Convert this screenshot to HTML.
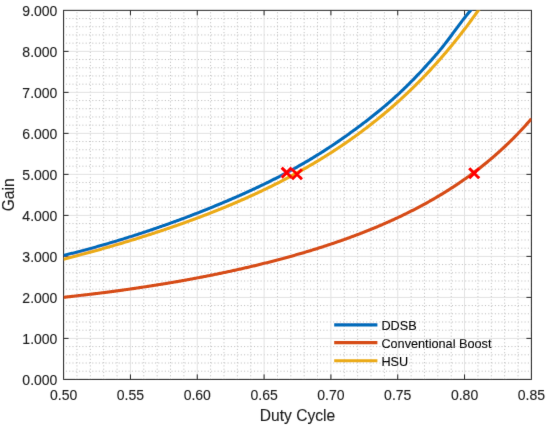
<!DOCTYPE html>
<html><head><meta charset="utf-8"><style>
html,body{margin:0;padding:0;background:#fff;}
body{width:550px;height:428px;overflow:hidden;}
svg{display:block;}
text{font-family:"Liberation Sans",Arial,Helvetica,sans-serif;fill:#1c1c1c;stroke:#1c1c1c;stroke-width:0.12px;}
</style></head><body>
<svg width="550" height="428" viewBox="0 0 550 428">
<defs><filter id="bl" x="0" y="0" width="100%" height="100%" filterUnits="userSpaceOnUse"><feConvolveMatrix order="3" kernelMatrix="0.0049 0.0602 0.0049 0.0602 0.7396 0.0602 0.0049 0.0602 0.0049" divisor="1" edgeMode="duplicate"/></filter><clipPath id="ax"><rect x="63.6" y="10.35" width="467.79999999999995" height="369.04999999999995"/></clipPath></defs>
<rect x="0" y="0" width="550" height="428" fill="#fff"/>
<g filter="url(#bl)">
<g stroke="#c0c0c0" stroke-width="1" stroke-dasharray="1.1 2.20"><line x1="76.97" y1="379.4" x2="76.97" y2="10.35" stroke-dashoffset="0.25"/><line x1="90.33" y1="379.4" x2="90.33" y2="10.35" stroke-dashoffset="0.25"/><line x1="103.70" y1="379.4" x2="103.70" y2="10.35" stroke-dashoffset="0.25"/><line x1="117.06" y1="379.4" x2="117.06" y2="10.35" stroke-dashoffset="0.25"/><line x1="143.79" y1="379.4" x2="143.79" y2="10.35" stroke-dashoffset="0.25"/><line x1="157.16" y1="379.4" x2="157.16" y2="10.35" stroke-dashoffset="0.25"/><line x1="170.53" y1="379.4" x2="170.53" y2="10.35" stroke-dashoffset="0.25"/><line x1="183.89" y1="379.4" x2="183.89" y2="10.35" stroke-dashoffset="0.25"/><line x1="210.62" y1="379.4" x2="210.62" y2="10.35" stroke-dashoffset="0.25"/><line x1="223.99" y1="379.4" x2="223.99" y2="10.35" stroke-dashoffset="0.25"/><line x1="237.35" y1="379.4" x2="237.35" y2="10.35" stroke-dashoffset="0.25"/><line x1="250.72" y1="379.4" x2="250.72" y2="10.35" stroke-dashoffset="0.25"/><line x1="277.45" y1="379.4" x2="277.45" y2="10.35" stroke-dashoffset="0.25"/><line x1="290.82" y1="379.4" x2="290.82" y2="10.35" stroke-dashoffset="0.25"/><line x1="304.18" y1="379.4" x2="304.18" y2="10.35" stroke-dashoffset="0.25"/><line x1="317.55" y1="379.4" x2="317.55" y2="10.35" stroke-dashoffset="0.25"/><line x1="344.28" y1="379.4" x2="344.28" y2="10.35" stroke-dashoffset="0.25"/><line x1="357.65" y1="379.4" x2="357.65" y2="10.35" stroke-dashoffset="0.25"/><line x1="371.01" y1="379.4" x2="371.01" y2="10.35" stroke-dashoffset="0.25"/><line x1="384.38" y1="379.4" x2="384.38" y2="10.35" stroke-dashoffset="0.25"/><line x1="411.11" y1="379.4" x2="411.11" y2="10.35" stroke-dashoffset="0.25"/><line x1="424.47" y1="379.4" x2="424.47" y2="10.35" stroke-dashoffset="0.25"/><line x1="437.84" y1="379.4" x2="437.84" y2="10.35" stroke-dashoffset="0.25"/><line x1="451.21" y1="379.4" x2="451.21" y2="10.35" stroke-dashoffset="0.25"/><line x1="477.94" y1="379.4" x2="477.94" y2="10.35" stroke-dashoffset="0.25"/><line x1="491.30" y1="379.4" x2="491.30" y2="10.35" stroke-dashoffset="0.25"/><line x1="504.67" y1="379.4" x2="504.67" y2="10.35" stroke-dashoffset="0.25"/><line x1="518.03" y1="379.4" x2="518.03" y2="10.35" stroke-dashoffset="0.25"/><line x1="63.6" y1="371.20" x2="531.4" y2="371.20" stroke-dashoffset="1.05"/><line x1="63.6" y1="363.00" x2="531.4" y2="363.00" stroke-dashoffset="1.05"/><line x1="63.6" y1="354.80" x2="531.4" y2="354.80" stroke-dashoffset="1.05"/><line x1="63.6" y1="346.60" x2="531.4" y2="346.60" stroke-dashoffset="1.05"/><line x1="63.6" y1="330.19" x2="531.4" y2="330.19" stroke-dashoffset="1.05"/><line x1="63.6" y1="321.99" x2="531.4" y2="321.99" stroke-dashoffset="1.05"/><line x1="63.6" y1="313.79" x2="531.4" y2="313.79" stroke-dashoffset="1.05"/><line x1="63.6" y1="305.59" x2="531.4" y2="305.59" stroke-dashoffset="1.05"/><line x1="63.6" y1="289.19" x2="531.4" y2="289.19" stroke-dashoffset="1.05"/><line x1="63.6" y1="280.99" x2="531.4" y2="280.99" stroke-dashoffset="1.05"/><line x1="63.6" y1="272.79" x2="531.4" y2="272.79" stroke-dashoffset="1.05"/><line x1="63.6" y1="264.58" x2="531.4" y2="264.58" stroke-dashoffset="1.05"/><line x1="63.6" y1="248.18" x2="531.4" y2="248.18" stroke-dashoffset="1.05"/><line x1="63.6" y1="239.98" x2="531.4" y2="239.98" stroke-dashoffset="1.05"/><line x1="63.6" y1="231.78" x2="531.4" y2="231.78" stroke-dashoffset="1.05"/><line x1="63.6" y1="223.58" x2="531.4" y2="223.58" stroke-dashoffset="1.05"/><line x1="63.6" y1="207.18" x2="531.4" y2="207.18" stroke-dashoffset="1.05"/><line x1="63.6" y1="198.98" x2="531.4" y2="198.98" stroke-dashoffset="1.05"/><line x1="63.6" y1="190.77" x2="531.4" y2="190.77" stroke-dashoffset="1.05"/><line x1="63.6" y1="182.57" x2="531.4" y2="182.57" stroke-dashoffset="1.05"/><line x1="63.6" y1="166.17" x2="531.4" y2="166.17" stroke-dashoffset="1.05"/><line x1="63.6" y1="157.97" x2="531.4" y2="157.97" stroke-dashoffset="1.05"/><line x1="63.6" y1="149.77" x2="531.4" y2="149.77" stroke-dashoffset="1.05"/><line x1="63.6" y1="141.57" x2="531.4" y2="141.57" stroke-dashoffset="1.05"/><line x1="63.6" y1="125.17" x2="531.4" y2="125.17" stroke-dashoffset="1.05"/><line x1="63.6" y1="116.96" x2="531.4" y2="116.96" stroke-dashoffset="1.05"/><line x1="63.6" y1="108.76" x2="531.4" y2="108.76" stroke-dashoffset="1.05"/><line x1="63.6" y1="100.56" x2="531.4" y2="100.56" stroke-dashoffset="1.05"/><line x1="63.6" y1="84.16" x2="531.4" y2="84.16" stroke-dashoffset="1.05"/><line x1="63.6" y1="75.96" x2="531.4" y2="75.96" stroke-dashoffset="1.05"/><line x1="63.6" y1="67.76" x2="531.4" y2="67.76" stroke-dashoffset="1.05"/><line x1="63.6" y1="59.56" x2="531.4" y2="59.56" stroke-dashoffset="1.05"/><line x1="63.6" y1="43.15" x2="531.4" y2="43.15" stroke-dashoffset="1.05"/><line x1="63.6" y1="34.95" x2="531.4" y2="34.95" stroke-dashoffset="1.05"/><line x1="63.6" y1="26.75" x2="531.4" y2="26.75" stroke-dashoffset="1.05"/><line x1="63.6" y1="18.55" x2="531.4" y2="18.55" stroke-dashoffset="1.05"/></g>
<g stroke="#e2e2e2" stroke-width="1"><line x1="130.43" y1="10.35" x2="130.43" y2="379.4"/><line x1="197.26" y1="10.35" x2="197.26" y2="379.4"/><line x1="264.09" y1="10.35" x2="264.09" y2="379.4"/><line x1="330.91" y1="10.35" x2="330.91" y2="379.4"/><line x1="397.74" y1="10.35" x2="397.74" y2="379.4"/><line x1="464.57" y1="10.35" x2="464.57" y2="379.4"/><line x1="63.6" y1="338.39" x2="531.4" y2="338.39"/><line x1="63.6" y1="297.39" x2="531.4" y2="297.39"/><line x1="63.6" y1="256.38" x2="531.4" y2="256.38"/><line x1="63.6" y1="215.38" x2="531.4" y2="215.38"/><line x1="63.6" y1="174.37" x2="531.4" y2="174.37"/><line x1="63.6" y1="133.37" x2="531.4" y2="133.37"/><line x1="63.6" y1="92.36" x2="531.4" y2="92.36"/><line x1="63.6" y1="51.36" x2="531.4" y2="51.36"/></g>
<g stroke="#262626" stroke-width="1.0"><line x1="130.43" y1="379.4" x2="130.43" y2="374.4"/><line x1="130.43" y1="10.35" x2="130.43" y2="15.35"/><line x1="197.26" y1="379.4" x2="197.26" y2="374.4"/><line x1="197.26" y1="10.35" x2="197.26" y2="15.35"/><line x1="264.09" y1="379.4" x2="264.09" y2="374.4"/><line x1="264.09" y1="10.35" x2="264.09" y2="15.35"/><line x1="330.91" y1="379.4" x2="330.91" y2="374.4"/><line x1="330.91" y1="10.35" x2="330.91" y2="15.35"/><line x1="397.74" y1="379.4" x2="397.74" y2="374.4"/><line x1="397.74" y1="10.35" x2="397.74" y2="15.35"/><line x1="464.57" y1="379.4" x2="464.57" y2="374.4"/><line x1="464.57" y1="10.35" x2="464.57" y2="15.35"/><line x1="63.6" y1="338.39" x2="68.6" y2="338.39"/><line x1="531.4" y1="338.39" x2="526.4" y2="338.39"/><line x1="63.6" y1="297.39" x2="68.6" y2="297.39"/><line x1="531.4" y1="297.39" x2="526.4" y2="297.39"/><line x1="63.6" y1="256.38" x2="68.6" y2="256.38"/><line x1="531.4" y1="256.38" x2="526.4" y2="256.38"/><line x1="63.6" y1="215.38" x2="68.6" y2="215.38"/><line x1="531.4" y1="215.38" x2="526.4" y2="215.38"/><line x1="63.6" y1="174.37" x2="68.6" y2="174.37"/><line x1="531.4" y1="174.37" x2="526.4" y2="174.37"/><line x1="63.6" y1="133.37" x2="68.6" y2="133.37"/><line x1="531.4" y1="133.37" x2="526.4" y2="133.37"/><line x1="63.6" y1="92.36" x2="68.6" y2="92.36"/><line x1="531.4" y1="92.36" x2="526.4" y2="92.36"/><line x1="63.6" y1="51.36" x2="68.6" y2="51.36"/><line x1="531.4" y1="51.36" x2="526.4" y2="51.36"/></g>
<rect x="63.6" y="10.35" width="467.80" height="369.05" fill="none" stroke="#262626" stroke-width="1.0"/>
<g fill="none" stroke-width="3.1" stroke-linejoin="round" clip-path="url(#ax)">
<polyline stroke="#006ABA" points="63.60,255.48 64.54,255.25 65.47,255.02 66.41,254.78 67.35,254.55 68.29,254.32 69.22,254.09 70.16,253.85 71.10,253.61 72.04,253.38 72.97,253.14 73.91,252.90 74.85,252.66 75.79,252.42 76.72,252.18 77.66,251.94 78.60,251.69 79.54,251.45 80.47,251.20 81.41,250.95 82.35,250.71 83.29,250.46 84.22,250.21 85.16,249.96 86.10,249.71 87.04,249.45 87.97,249.20 88.91,248.94 89.85,248.69 90.79,248.43 91.72,248.18 92.66,247.92 93.60,247.66 94.54,247.40 95.47,247.14 96.41,246.87 97.35,246.61 98.29,246.35 99.22,246.08 100.16,245.82 101.10,245.55 102.04,245.28 102.97,245.01 103.91,244.74 104.85,244.47 105.79,244.20 106.72,243.93 107.66,243.65 108.60,243.38 109.54,243.10 110.47,242.83 111.41,242.55 112.35,242.27 113.29,241.99 114.22,241.71 115.16,241.43 116.10,241.15 117.04,240.86 117.97,240.58 118.91,240.30 119.85,240.01 120.79,239.72 121.72,239.43 122.66,239.15 123.60,238.86 124.54,238.57 125.47,238.27 126.41,237.98 127.35,237.69 128.29,237.39 129.22,237.10 130.16,236.80 131.10,236.50 132.04,236.21 132.97,235.91 133.91,235.61 134.85,235.31 135.79,235.00 136.72,234.70 137.66,234.40 138.60,234.09 139.54,233.79 140.47,233.48 141.41,233.17 142.35,232.86 143.29,232.55 144.22,232.24 145.16,231.93 146.10,231.62 147.04,231.31 147.97,230.99 148.91,230.68 149.85,230.36 150.79,230.04 151.72,229.72 152.66,229.41 153.60,229.09 154.54,228.76 155.47,228.44 156.41,228.12 157.35,227.80 158.28,227.47 159.22,227.15 160.16,226.82 161.10,226.49 162.03,226.16 162.97,225.83 163.91,225.50 164.85,225.17 165.78,224.84 166.72,224.51 167.66,224.17 168.60,223.84 169.53,223.50 170.47,223.16 171.41,222.82 172.35,222.48 173.28,222.14 174.22,221.80 175.16,221.46 176.10,221.12 177.03,220.77 177.97,220.43 178.91,220.08 179.85,219.74 180.78,219.39 181.72,219.04 182.66,218.69 183.60,218.34 184.53,217.99 185.47,217.63 186.41,217.28 187.35,216.92 188.28,216.57 189.22,216.21 190.16,215.85 191.10,215.50 192.03,215.14 192.97,214.77 193.91,214.41 194.85,214.05 195.78,213.69 196.72,213.32 197.66,212.96 198.60,212.59 199.53,212.22 200.47,211.85 201.41,211.48 202.35,211.11 203.28,210.74 204.22,210.37 205.16,209.99 206.10,209.62 207.03,209.24 207.97,208.86 208.91,208.48 209.85,208.11 210.78,207.72 211.72,207.34 212.66,206.96 213.60,206.58 214.53,206.19 215.47,205.81 216.41,205.42 217.35,205.03 218.28,204.64 219.22,204.25 220.16,203.86 221.10,203.47 222.03,203.08 222.97,202.68 223.91,202.29 224.85,201.89 225.78,201.49 226.72,201.10 227.66,200.70 228.60,200.29 229.53,199.89 230.47,199.49 231.41,199.09 232.35,198.68 233.28,198.27 234.22,197.87 235.16,197.46 236.10,197.05 237.03,196.64 237.97,196.22 238.91,195.81 239.85,195.39 240.78,194.98 241.72,194.56 242.66,194.14 243.60,193.72 244.53,193.30 245.47,192.88 246.41,192.45 247.35,192.03 248.28,191.60 249.22,191.17 250.16,190.74 251.09,190.31 252.03,189.88 252.97,189.44 253.91,189.01 254.84,188.57 255.78,188.13 256.72,187.69 257.66,187.25 258.59,186.80 259.53,186.36 260.47,185.91 261.41,185.46 262.34,185.01 263.28,184.56 264.22,184.11 265.16,183.65 266.09,183.20 267.03,182.74 267.97,182.28 268.91,181.81 269.84,181.35 270.78,180.88 271.72,180.42 272.66,179.95 273.59,179.48 274.53,179.00 275.47,178.53 276.41,178.05 277.34,177.57 278.28,177.09 279.22,176.61 280.16,176.12 281.09,175.64 282.03,175.15 282.97,174.65 283.91,174.16 284.84,173.67 285.78,173.17 286.72,172.67 287.66,172.17 288.59,171.66 289.53,171.16 290.47,170.65 291.41,170.14 292.34,169.63 293.28,169.11 294.22,168.60 295.16,168.08 296.09,167.55 297.03,167.03 297.97,166.50 298.91,165.97 299.84,165.44 300.78,164.91 301.72,164.37 302.66,163.83 303.59,163.29 304.53,162.75 305.47,162.20 306.41,161.65 307.34,161.10 308.28,160.55 309.22,159.99 310.16,159.43 311.09,158.87 312.03,158.31 312.97,157.74 313.91,157.17 314.84,156.60 315.78,156.02 316.72,155.44 317.66,154.86 318.59,154.28 319.53,153.69 320.47,153.10 321.41,152.51 322.34,151.92 323.28,151.32 324.22,150.72 325.16,150.11 326.09,149.51 327.03,148.90 327.97,148.29 328.91,147.67 329.84,147.05 330.78,146.43 331.72,145.81 332.66,145.19 333.59,144.56 334.53,143.93 335.47,143.29 336.41,142.66 337.34,142.02 338.28,141.38 339.22,140.73 340.16,140.09 341.09,139.44 342.03,138.79 342.97,138.13 343.91,137.47 344.84,136.81 345.78,136.15 346.72,135.49 347.65,134.82 348.59,134.15 349.53,133.48 350.47,132.80 351.40,132.12 352.34,131.44 353.28,130.76 354.22,130.08 355.15,129.39 356.09,128.70 357.03,128.00 357.97,127.31 358.90,126.61 359.84,125.91 360.78,125.21 361.72,124.50 362.65,123.79 363.59,123.08 364.53,122.37 365.47,121.65 366.40,120.93 367.34,120.21 368.28,119.48 369.22,118.75 370.15,118.02 371.09,117.29 372.03,116.55 372.97,115.81 373.90,115.06 374.84,114.31 375.78,113.56 376.72,112.80 377.65,112.04 378.59,111.28 379.53,110.51 380.47,109.73 381.40,108.96 382.34,108.18 383.28,107.39 384.22,106.60 385.15,105.81 386.09,105.01 387.03,104.21 387.97,103.40 388.90,102.58 389.84,101.77 390.78,100.94 391.72,100.12 392.65,99.28 393.59,98.45 394.53,97.60 395.47,96.75 396.40,95.90 397.34,95.04 398.28,94.18 399.22,93.31 400.15,92.43 401.09,91.55 402.03,90.66 402.97,89.76 403.90,88.86 404.84,87.96 405.78,87.05 406.72,86.13 407.65,85.21 408.59,84.28 409.53,83.34 410.47,82.40 411.40,81.46 412.34,80.51 413.28,79.55 414.22,78.59 415.15,77.62 416.09,76.65 417.03,75.67 417.97,74.69 418.90,73.70 419.84,72.71 420.78,71.71 421.72,70.71 422.65,69.70 423.59,68.69 424.53,67.67 425.47,66.64 426.40,65.62 427.34,64.58 428.28,63.55 429.22,62.50 430.15,61.46 431.09,60.41 432.03,59.35 432.97,58.29 433.90,57.22 434.84,56.15 435.78,55.08 436.72,54.00 437.65,52.91 438.59,51.81 439.53,50.69 440.46,49.56 441.40,48.41 442.34,47.25 443.28,46.07 444.21,44.88 445.15,43.67 446.09,42.45 447.03,41.22 447.96,39.98 448.90,38.73 449.84,37.48 450.78,36.22 451.71,34.96 452.65,33.69 453.59,32.42 454.53,31.15 455.46,29.88 456.40,28.61 457.34,27.35 458.28,26.09 459.21,24.83 460.15,23.58 461.09,22.34 462.03,21.11 462.96,19.89 463.90,18.68 464.84,17.49 465.78,16.31 466.71,15.14 467.65,13.99 468.59,12.86 469.53,11.75 470.46,10.65 471.40,9.41 472.34,8.07 473.28,6.72 474.21,5.36 475.15,3.99 476.09,2.61 477.03,1.23 477.96,-0.16 478.90,-1.56 479.84,-2.97 480.78,-4.39 481.71,-5.82 482.65,-7.25 483.59,-8.70 484.53,-10.15 485.46,-11.62 486.40,-13.09 487.34,-14.57 488.28,-16.06 489.21,-17.56 490.15,-19.06 491.09,-20.58 492.03,-22.11 492.96,-23.65 493.90,-25.19 494.84,-26.75 495.78,-28.32 496.71,-29.89 497.65,-31.48 498.59,-33.07 499.53,-34.68 500.46,-36.30 501.40,-37.92 502.34,-39.56 503.28,-41.21 504.21,-42.86 505.15,-44.53 506.09,-46.21 507.03,-47.90 507.96,-49.60 508.90,-51.31 509.84,-53.04 510.78,-54.77 511.71,-56.51 512.65,-58.27 513.59,-60.04 514.53,-61.82 515.46,-63.61 516.40,-65.41 517.34,-67.22 518.28,-69.05 519.21,-70.88 520.15,-72.73 521.09,-74.59 522.03,-76.47 522.96,-78.35 523.90,-80.25 524.84,-82.16 525.78,-84.08 526.71,-86.02 527.65,-87.97 528.59,-89.93 529.53,-91.90 530.46,-93.89 531.40,-95.89"/>
<polyline stroke="#D64B14" points="63.60,297.30 64.54,297.20 65.47,297.10 66.41,297.00 67.35,296.90 68.29,296.80 69.22,296.70 70.16,296.59 71.10,296.49 72.04,296.39 72.97,296.28 73.91,296.18 74.85,296.07 75.79,295.97 76.72,295.86 77.66,295.76 78.60,295.65 79.54,295.54 80.47,295.44 81.41,295.33 82.35,295.22 83.29,295.11 84.22,295.00 85.16,294.89 86.10,294.78 87.04,294.67 87.97,294.56 88.91,294.45 89.85,294.33 90.79,294.22 91.72,294.11 92.66,293.99 93.60,293.88 94.54,293.76 95.47,293.65 96.41,293.53 97.35,293.42 98.29,293.30 99.22,293.18 100.16,293.06 101.10,292.95 102.04,292.83 102.97,292.71 103.91,292.59 104.85,292.47 105.79,292.35 106.72,292.23 107.66,292.10 108.60,291.98 109.54,291.86 110.47,291.74 111.41,291.61 112.35,291.49 113.29,291.36 114.22,291.24 115.16,291.11 116.10,290.99 117.04,290.86 117.97,290.73 118.91,290.60 119.85,290.47 120.79,290.35 121.72,290.22 122.66,290.09 123.60,289.96 124.54,289.82 125.47,289.69 126.41,289.56 127.35,289.43 128.29,289.30 129.22,289.16 130.16,289.03 131.10,288.89 132.04,288.76 132.97,288.62 133.91,288.48 134.85,288.35 135.79,288.21 136.72,288.07 137.66,287.93 138.60,287.79 139.54,287.65 140.47,287.51 141.41,287.37 142.35,287.23 143.29,287.09 144.22,286.95 145.16,286.80 146.10,286.66 147.04,286.52 147.97,286.37 148.91,286.23 149.85,286.08 150.79,285.93 151.72,285.79 152.66,285.64 153.60,285.49 154.54,285.34 155.47,285.19 156.41,285.04 157.35,284.89 158.28,284.74 159.22,284.59 160.16,284.44 161.10,284.29 162.03,284.13 162.97,283.98 163.91,283.82 164.85,283.67 165.78,283.51 166.72,283.36 167.66,283.20 168.60,283.04 169.53,282.88 170.47,282.73 171.41,282.57 172.35,282.41 173.28,282.25 174.22,282.08 175.16,281.92 176.10,281.76 177.03,281.60 177.97,281.43 178.91,281.27 179.85,281.10 180.78,280.94 181.72,280.77 182.66,280.61 183.60,280.44 184.53,280.27 185.47,280.10 186.41,279.93 187.35,279.76 188.28,279.59 189.22,279.42 190.16,279.25 191.10,279.08 192.03,278.90 192.97,278.73 193.91,278.55 194.85,278.38 195.78,278.20 196.72,278.03 197.66,277.85 198.60,277.67 199.53,277.49 200.47,277.31 201.41,277.13 202.35,276.95 203.28,276.77 204.22,276.59 205.16,276.41 206.10,276.22 207.03,276.04 207.97,275.85 208.91,275.67 209.85,275.48 210.78,275.29 211.72,275.11 212.66,274.92 213.60,274.73 214.53,274.54 215.47,274.35 216.41,274.16 217.35,273.97 218.28,273.77 219.22,273.58 220.16,273.38 221.10,273.19 222.03,272.99 222.97,272.80 223.91,272.60 224.85,272.40 225.78,272.20 226.72,272.00 227.66,271.80 228.60,271.60 229.53,271.40 230.47,271.20 231.41,271.00 232.35,270.79 233.28,270.59 234.22,270.38 235.16,270.17 236.10,269.97 237.03,269.76 237.97,269.55 238.91,269.34 239.85,269.13 240.78,268.92 241.72,268.71 242.66,268.49 243.60,268.28 244.53,268.06 245.47,267.85 246.41,267.63 247.35,267.42 248.28,267.20 249.22,266.98 250.16,266.76 251.09,266.54 252.03,266.32 252.97,266.09 253.91,265.87 254.84,265.65 255.78,265.42 256.72,265.20 257.66,264.97 258.59,264.74 259.53,264.51 260.47,264.29 261.41,264.05 262.34,263.82 263.28,263.59 264.22,263.36 265.16,263.12 266.09,262.89 267.03,262.65 267.97,262.42 268.91,262.18 269.84,261.94 270.78,261.70 271.72,261.46 272.66,261.22 273.59,260.98 274.53,260.73 275.47,260.49 276.41,260.24 277.34,260.00 278.28,259.75 279.22,259.50 280.16,259.25 281.09,259.00 282.03,258.75 282.97,258.50 283.91,258.25 284.84,257.99 285.78,257.74 286.72,257.48 287.66,257.22 288.59,256.96 289.53,256.70 290.47,256.44 291.41,256.18 292.34,255.92 293.28,255.66 294.22,255.39 295.16,255.12 296.09,254.86 297.03,254.59 297.97,254.32 298.91,254.05 299.84,253.78 300.78,253.50 301.72,253.23 302.66,252.96 303.59,252.68 304.53,252.40 305.47,252.12 306.41,251.84 307.34,251.56 308.28,251.28 309.22,251.00 310.16,250.71 311.09,250.43 312.03,250.14 312.97,249.85 313.91,249.56 314.84,249.27 315.78,248.98 316.72,248.69 317.66,248.40 318.59,248.10 319.53,247.80 320.47,247.51 321.41,247.21 322.34,246.91 323.28,246.60 324.22,246.30 325.16,246.00 326.09,245.69 327.03,245.38 327.97,245.07 328.91,244.76 329.84,244.45 330.78,244.14 331.72,243.83 332.66,243.51 333.59,243.19 334.53,242.88 335.47,242.56 336.41,242.24 337.34,241.91 338.28,241.59 339.22,241.26 340.16,240.94 341.09,240.61 342.03,240.28 342.97,239.95 343.91,239.62 344.84,239.28 345.78,238.95 346.72,238.61 347.65,238.27 348.59,237.93 349.53,237.59 350.47,237.25 351.40,236.90 352.34,236.55 353.28,236.21 354.22,235.86 355.15,235.50 356.09,235.15 357.03,234.80 357.97,234.44 358.90,234.08 359.84,233.72 360.78,233.36 361.72,233.00 362.65,232.63 363.59,232.27 364.53,231.90 365.47,231.53 366.40,231.16 367.34,230.78 368.28,230.41 369.22,230.03 370.15,229.65 371.09,229.27 372.03,228.89 372.97,228.51 373.90,228.12 374.84,227.73 375.78,227.34 376.72,226.95 377.65,226.56 378.59,226.16 379.53,225.76 380.47,225.36 381.40,224.96 382.34,224.56 383.28,224.15 384.22,223.75 385.15,223.34 386.09,222.92 387.03,222.51 387.97,222.09 388.90,221.68 389.84,221.26 390.78,220.83 391.72,220.41 392.65,219.98 393.59,219.56 394.53,219.12 395.47,218.69 396.40,218.26 397.34,217.82 398.28,217.38 399.22,216.94 400.15,216.49 401.09,216.05 402.03,215.60 402.97,215.15 403.90,214.69 404.84,214.24 405.78,213.78 406.72,213.32 407.65,212.85 408.59,212.39 409.53,211.92 410.47,211.45 411.40,210.98 412.34,210.50 413.28,210.02 414.22,209.54 415.15,209.06 416.09,208.57 417.03,208.08 417.97,207.59 418.90,207.10 419.84,206.60 420.78,206.10 421.72,205.60 422.65,205.09 423.59,204.59 424.53,204.08 425.47,203.56 426.40,203.05 427.34,202.53 428.28,202.01 429.22,201.48 430.15,200.95 431.09,200.42 432.03,199.89 432.97,199.35 433.90,198.81 434.84,198.27 435.78,197.72 436.72,197.17 437.65,196.62 438.59,196.06 439.53,195.50 440.46,194.94 441.40,194.37 442.34,193.80 443.28,193.23 444.21,192.66 445.15,192.08 446.09,191.49 447.03,190.91 447.96,190.32 448.90,189.73 449.84,189.13 450.78,188.53 451.71,187.92 452.65,187.32 453.59,186.71 454.53,186.09 455.46,185.47 456.40,184.85 457.34,184.22 458.28,183.59 459.21,182.96 460.15,182.32 461.09,181.68 462.03,181.03 462.96,180.38 463.90,179.73 464.84,179.07 465.78,178.41 466.71,177.74 467.65,177.07 468.59,176.40 469.53,175.72 470.46,175.03 471.40,174.34 472.34,173.65 473.28,172.95 474.21,172.25 475.15,171.55 476.09,170.84 477.03,170.12 477.96,169.40 478.90,168.68 479.84,167.95 480.78,167.21 481.71,166.47 482.65,165.73 483.59,164.98 484.53,164.22 485.46,163.46 486.40,162.70 487.34,161.93 488.28,161.15 489.21,160.37 490.15,159.59 491.09,158.80 492.03,158.00 492.96,157.20 493.90,156.39 494.84,155.58 495.78,154.76 496.71,153.93 497.65,153.10 498.59,152.27 499.53,151.43 500.46,150.58 501.40,149.72 502.34,148.86 503.28,148.00 504.21,147.12 505.15,146.25 506.09,145.36 507.03,144.47 507.96,143.57 508.90,142.67 509.84,141.75 510.78,140.84 511.71,139.91 512.65,138.98 513.59,138.04 514.53,137.10 515.46,136.14 516.40,135.18 517.34,134.22 518.28,133.24 519.21,132.26 520.15,131.27 521.09,130.28 522.03,129.27 522.96,128.26 523.90,127.24 524.84,126.21 525.78,125.18 526.71,124.13 527.65,123.08 528.59,122.02 529.53,120.95 530.46,119.88 531.40,118.79"/>
<polyline stroke="#EBAA12" points="63.60,259.29 64.54,259.04 65.47,258.80 66.41,258.55 67.35,258.31 68.29,258.06 69.22,257.82 70.16,257.57 71.10,257.32 72.04,257.08 72.97,256.83 73.91,256.58 74.85,256.33 75.79,256.08 76.72,255.83 77.66,255.58 78.60,255.33 79.54,255.08 80.47,254.83 81.41,254.57 82.35,254.32 83.29,254.07 84.22,253.81 85.16,253.56 86.10,253.30 87.04,253.05 87.97,252.79 88.91,252.53 89.85,252.28 90.79,252.02 91.72,251.76 92.66,251.50 93.60,251.24 94.54,250.98 95.47,250.72 96.41,250.46 97.35,250.20 98.29,249.93 99.22,249.67 100.16,249.41 101.10,249.14 102.04,248.88 102.97,248.61 103.91,248.35 104.85,248.08 105.79,247.81 106.72,247.54 107.66,247.27 108.60,247.01 109.54,246.74 110.47,246.46 111.41,246.19 112.35,245.92 113.29,245.65 114.22,245.38 115.16,245.10 116.10,244.83 117.04,244.55 117.97,244.28 118.91,244.00 119.85,243.72 120.79,243.44 121.72,243.17 122.66,242.89 123.60,242.61 124.54,242.33 125.47,242.04 126.41,241.76 127.35,241.48 128.29,241.20 129.22,240.91 130.16,240.63 131.10,240.34 132.04,240.06 132.97,239.77 133.91,239.48 134.85,239.19 135.79,238.90 136.72,238.61 137.66,238.32 138.60,238.03 139.54,237.74 140.47,237.44 141.41,237.15 142.35,236.85 143.29,236.56 144.22,236.26 145.16,235.97 146.10,235.67 147.04,235.37 147.97,235.07 148.91,234.77 149.85,234.47 150.79,234.17 151.72,233.86 152.66,233.56 153.60,233.25 154.54,232.95 155.47,232.64 156.41,232.33 157.35,232.03 158.28,231.72 159.22,231.41 160.16,231.10 161.10,230.79 162.03,230.47 162.97,230.16 163.91,229.85 164.85,229.53 165.78,229.22 166.72,228.90 167.66,228.58 168.60,228.26 169.53,227.94 170.47,227.62 171.41,227.30 172.35,226.98 173.28,226.65 174.22,226.33 175.16,226.00 176.10,225.68 177.03,225.35 177.97,225.02 178.91,224.69 179.85,224.36 180.78,224.03 181.72,223.70 182.66,223.37 183.60,223.03 184.53,222.70 185.47,222.36 186.41,222.02 187.35,221.68 188.28,221.34 189.22,221.00 190.16,220.66 191.10,220.32 192.03,219.97 192.97,219.63 193.91,219.28 194.85,218.94 195.78,218.59 196.72,218.24 197.66,217.89 198.60,217.54 199.53,217.19 200.47,216.83 201.41,216.48 202.35,216.12 203.28,215.76 204.22,215.41 205.16,215.05 206.10,214.69 207.03,214.32 207.97,213.96 208.91,213.60 209.85,213.23 210.78,212.86 211.72,212.50 212.66,212.13 213.60,211.76 214.53,211.39 215.47,211.01 216.41,210.64 217.35,210.26 218.28,209.89 219.22,209.51 220.16,209.13 221.10,208.75 222.03,208.37 222.97,207.99 223.91,207.60 224.85,207.22 225.78,206.83 226.72,206.44 227.66,206.05 228.60,205.66 229.53,205.27 230.47,204.87 231.41,204.48 232.35,204.08 233.28,203.68 234.22,203.29 235.16,202.89 236.10,202.48 237.03,202.08 237.97,201.67 238.91,201.27 239.85,200.86 240.78,200.45 241.72,200.04 242.66,199.63 243.60,199.22 244.53,198.80 245.47,198.38 246.41,197.97 247.35,197.55 248.28,197.12 249.22,196.70 250.16,196.28 251.09,195.85 252.03,195.42 252.97,195.00 253.91,194.57 254.84,194.13 255.78,193.70 256.72,193.26 257.66,192.83 258.59,192.39 259.53,191.95 260.47,191.51 261.41,191.06 262.34,190.62 263.28,190.17 264.22,189.72 265.16,189.27 266.09,188.82 267.03,188.37 267.97,187.91 268.91,187.45 269.84,186.99 270.78,186.53 271.72,186.07 272.66,185.61 273.59,185.14 274.53,184.67 275.47,184.20 276.41,183.73 277.34,183.26 278.28,182.78 279.22,182.31 280.16,181.83 281.09,181.35 282.03,180.86 282.97,180.38 283.91,179.89 284.84,179.40 285.78,178.91 286.72,178.42 287.66,177.93 288.59,177.43 289.53,176.93 290.47,176.43 291.41,175.93 292.34,175.43 293.28,174.92 294.22,174.41 295.16,173.90 296.09,173.39 297.03,172.87 297.97,172.36 298.91,171.84 299.84,171.32 300.78,170.79 301.72,170.27 302.66,169.74 303.59,169.21 304.53,168.68 305.47,168.14 306.41,167.61 307.34,167.07 308.28,166.53 309.22,165.98 310.16,165.44 311.09,164.89 312.03,164.34 312.97,163.79 313.91,163.23 314.84,162.68 315.78,162.12 316.72,161.55 317.66,160.99 318.59,160.42 319.53,159.85 320.47,159.28 321.41,158.71 322.34,158.13 323.28,157.55 324.22,156.97 325.16,156.39 326.09,155.80 327.03,155.21 327.97,154.62 328.91,154.03 329.84,153.43 330.78,152.83 331.72,152.23 332.66,151.62 333.59,151.01 334.53,150.40 335.47,149.79 336.41,149.17 337.34,148.56 338.28,147.94 339.22,147.31 340.16,146.68 341.09,146.05 342.03,145.42 342.97,144.79 343.91,144.15 344.84,143.51 345.78,142.86 346.72,142.22 347.65,141.57 348.59,140.91 349.53,140.26 350.47,139.60 351.40,138.94 352.34,138.27 353.28,137.60 354.22,136.93 355.15,136.26 356.09,135.58 357.03,134.90 357.97,134.22 358.90,133.53 359.84,132.84 360.78,132.14 361.72,131.45 362.65,130.75 363.59,130.05 364.53,129.34 365.47,128.63 366.40,127.92 367.34,127.20 368.28,126.48 369.22,125.75 370.15,125.03 371.09,124.30 372.03,123.56 372.97,122.83 373.90,122.08 374.84,121.34 375.78,120.59 376.72,119.84 377.65,119.08 378.59,118.32 379.53,117.56 380.47,116.80 381.40,116.02 382.34,115.25 383.28,114.47 384.22,113.69 385.15,112.90 386.09,112.12 387.03,111.32 387.97,110.52 388.90,109.72 389.84,108.92 390.78,108.11 391.72,107.29 392.65,106.48 393.59,105.66 394.53,104.83 395.47,104.00 396.40,103.17 397.34,102.33 398.28,101.49 399.22,100.64 400.15,99.79 401.09,98.93 402.03,98.07 402.97,97.21 403.90,96.34 404.84,95.47 405.78,94.59 406.72,93.71 407.65,92.82 408.59,91.93 409.53,91.03 410.47,90.13 411.40,89.23 412.34,88.32 413.28,87.41 414.22,86.49 415.15,85.56 416.09,84.63 417.03,83.70 417.97,82.76 418.90,81.82 419.84,80.87 420.78,79.92 421.72,78.96 422.65,77.99 423.59,77.03 424.53,76.05 425.47,75.07 426.40,74.09 427.34,73.10 428.28,72.11 429.22,71.11 430.15,70.10 431.09,69.09 432.03,68.07 432.97,67.05 433.90,66.03 434.84,64.99 435.78,63.96 436.72,62.91 437.65,61.86 438.59,60.81 439.53,59.75 440.46,58.68 441.40,57.61 442.34,56.53 443.28,55.45 444.21,54.36 445.15,53.26 446.09,52.16 447.03,51.05 447.96,49.94 448.90,48.82 449.84,47.69 450.78,46.56 451.71,45.42 452.65,44.28 453.59,43.12 454.53,41.97 455.46,40.80 456.40,39.63 457.34,38.46 458.28,37.27 459.21,36.08 460.15,34.89 461.09,33.68 462.03,32.47 462.96,31.26 463.90,30.03 464.84,28.80 465.78,27.57 466.71,26.32 467.65,25.07 468.59,23.82 469.53,22.55 470.46,21.28 471.40,20.00 472.34,18.71 473.28,17.42 474.21,16.12 475.15,14.81 476.09,13.50 477.03,12.17 477.96,10.85 478.90,9.51 479.84,8.18 480.78,6.83 481.71,5.48 482.65,4.11 483.59,2.74 484.53,1.37 485.46,-0.02 486.40,-1.41 487.34,-2.81 488.28,-4.21 489.21,-5.63 490.15,-7.05 491.09,-8.48 492.03,-9.92 492.96,-11.37 493.90,-12.82 494.84,-14.28 495.78,-15.76 496.71,-17.23 497.65,-18.72 498.59,-20.21 499.53,-21.72 500.46,-23.23 501.40,-24.75 502.34,-26.28 503.28,-27.81 504.21,-29.36 505.15,-30.91 506.09,-32.47 507.03,-34.04 507.96,-35.61 508.90,-37.20 509.84,-38.79 510.78,-40.40 511.71,-42.01 512.65,-43.63 513.59,-45.26 514.53,-46.89 515.46,-48.54 516.40,-50.19 517.34,-51.85 518.28,-53.52 519.21,-55.20 520.15,-56.89 521.09,-58.59 522.03,-60.29 522.96,-62.00 523.90,-63.73 524.84,-65.46 525.78,-67.19 526.71,-68.94 527.65,-70.70 528.59,-72.46 529.53,-74.23 530.46,-76.01 531.40,-77.80"/>
</g>
<path d="M281.65,167.60L291.65,177.60M281.65,177.60L291.65,167.60" stroke="#ff0000" stroke-width="3.0" fill="none"/>
<path d="M292.00,169.30L302.00,179.30M292.00,179.30L302.00,169.30" stroke="#ff0000" stroke-width="3.0" fill="none"/>
<path d="M469.20,168.30L479.20,178.30M469.20,178.30L479.20,168.30" stroke="#ff0000" stroke-width="3.0" fill="none"/>
<g font-size="14.0px"><text x="63.60" y="399.6" text-anchor="middle">0.50</text><text x="130.43" y="399.6" text-anchor="middle">0.55</text><text x="197.26" y="399.6" text-anchor="middle">0.60</text><text x="264.09" y="399.6" text-anchor="middle">0.65</text><text x="330.91" y="399.6" text-anchor="middle">0.70</text><text x="397.74" y="399.6" text-anchor="middle">0.75</text><text x="464.57" y="399.6" text-anchor="middle">0.80</text><text x="531.40" y="399.6" text-anchor="middle">0.85</text><text x="57.4" y="384.70" text-anchor="end">0.000</text><text x="57.4" y="343.69" text-anchor="end">1.000</text><text x="57.4" y="302.69" text-anchor="end">2.000</text><text x="57.4" y="261.68" text-anchor="end">3.000</text><text x="57.4" y="220.68" text-anchor="end">4.000</text><text x="57.4" y="179.67" text-anchor="end">5.000</text><text x="57.4" y="138.67" text-anchor="end">6.000</text><text x="57.4" y="97.66" text-anchor="end">7.000</text><text x="57.4" y="56.66" text-anchor="end">8.000</text><text x="57.4" y="15.65" text-anchor="end">9.000</text></g>
<text x="297.50" y="421" text-anchor="middle" font-size="15.6px">Duty Cycle</text>
<text transform="translate(13.6,194.88) rotate(-90)" text-anchor="middle" font-size="15.6px">Gain</text>
<line x1="334.2" y1="324.9" x2="377.4" y2="324.9" stroke="#006ABA" stroke-width="3.1"/>
<text x="381.4" y="329.80" font-size="12.7px" style="fill:#000;stroke:#000">DDSB</text>
<line x1="334.2" y1="342.6" x2="377.4" y2="342.6" stroke="#D64B14" stroke-width="3.1"/>
<text x="381.4" y="347.50" font-size="12.7px" style="fill:#000;stroke:#000">Conventional Boost</text>
<line x1="334.2" y1="360.8" x2="377.4" y2="360.8" stroke="#EBAA12" stroke-width="3.1"/>
<text x="381.4" y="365.70" font-size="12.7px" style="fill:#000;stroke:#000">HSU</text>
</g></svg></body></html>
